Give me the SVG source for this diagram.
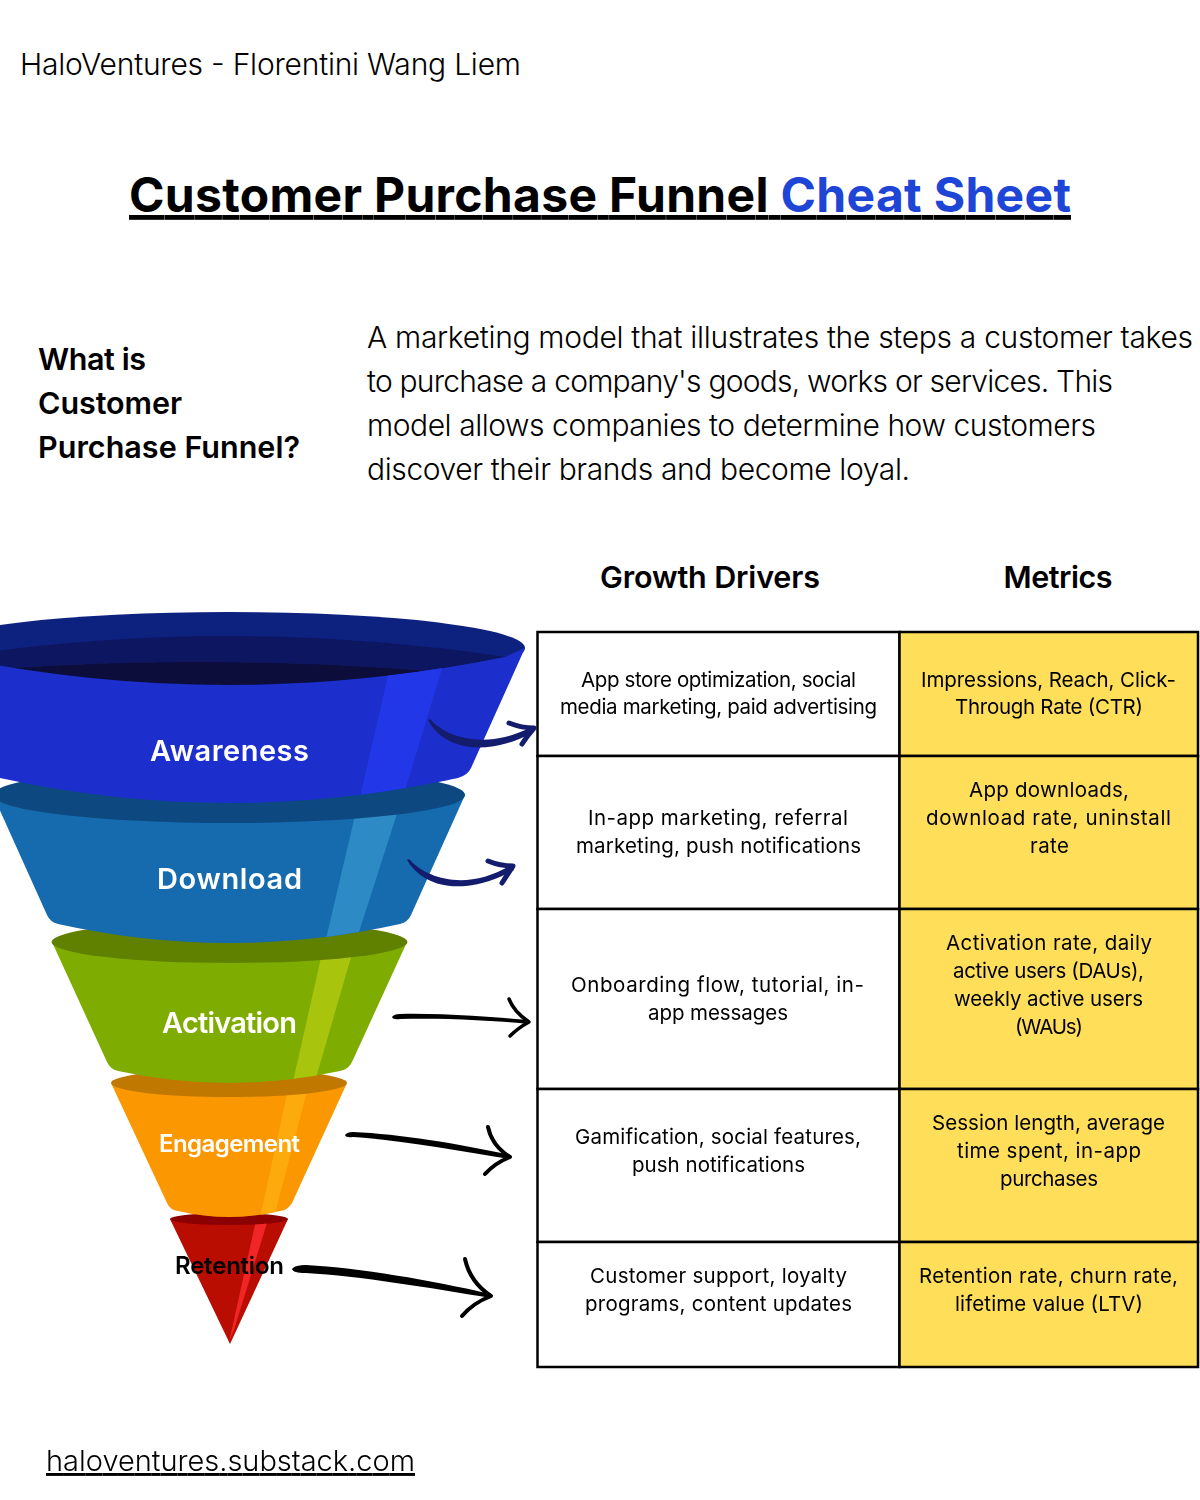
<svg xmlns="http://www.w3.org/2000/svg" width="1200" height="1500" viewBox="0 0 1200 1500">
<defs>
<filter id="soft" x="-5%" y="-5%" width="110%" height="110%"><feGaussianBlur stdDeviation="0.6"/></filter>
<clipPath id="c1"><path d="M525 648Q515 652 505 657Q229 713 -47 657L-67 648L-13 768Q-10 775 0 778Q229 828 458 778Q468 775 471 768Z"/></clipPath>
<clipPath id="c2"><path d="M-7 795L47 915Q50 922 58 924Q229 962 400 924Q408 922 411 915L465 795Z"/></clipPath>
<clipPath id="c3"><path d="M52 942L107 1062Q110 1069 118 1071Q229 1095 340 1071Q349 1069 352 1062L407 942Z"/></clipPath>
<clipPath id="c4"><path d="M111 1083L167 1203Q170 1210 178 1211Q229 1223 280 1211Q288 1210 292 1203L347 1083Z"/></clipPath>
</defs>
<style>
text{font-family:"Inter","Noto Sans",sans-serif;fill:#000}
.h{font-weight:600}
.b{font-size:20.500px;text-anchor:middle;font-weight:400}
.l{font-weight:600;text-anchor:middle;fill:#fff}
.p{font-size:30px;font-weight:300}
.n{fill:none;stroke:#141c6e;stroke-width:5;stroke-linecap:round;stroke-linejoin:round}
.k{fill:none;stroke:#000;stroke-width:4;stroke-linecap:round;stroke-linejoin:round}
.nf{fill:#141c6e}
.kf{fill:#000}
.c{fill:#fff;stroke:#000;stroke-width:2.500}
.y{fill:#ffde59;stroke:#000;stroke-width:2.500}
</style>
<rect width="1200" height="1500" fill="#fff"/>
<text x="20" y="75" font-size="30" font-weight="300" textLength="501">HaloVentures - Florentini Wang Liem</text>
<text x="600" y="212" font-size="48" font-weight="700" text-anchor="middle" text-decoration="underline" textLength="942">Customer Purchase Funnel <tspan style="fill:#1f45d6">Cheat Sheet</tspan></text>
<g id="question" class="h" font-size="30.500"><text x="38" y="370" textLength="108">What is</text><text x="38" y="414" textLength="144">Customer</text><text x="38" y="458" textLength="262">Purchase Funnel?</text></g>
<g id="definition" class="p"><text x="367" y="348" textLength="826">A marketing model that illustrates the steps a customer takes</text><text x="367" y="392" textLength="746">to purchase a company's goods, works or services. This</text><text x="367" y="436" textLength="729">model allows companies to determine how customers</text><text x="367" y="480" textLength="543">discover their brands and become loyal.</text></g>
<g id="headers" class="h" font-size="30.500" text-anchor="middle"><text x="710" y="588" textLength="220">Growth Drivers</text><text x="1058" y="588" textLength="109">Metrics</text></g>
<g filter="url(#soft)">
<g id="funnel-retention"><path d="M170 1219L230 1344L288 1219Z" fill="#b80805"/><path d="M256 1220L268 1220L234 1330L229 1342Z" fill="#f02525"/><ellipse cx="229" cy="1219" rx="59" ry="6" fill="#8b0000"/></g>
<g id="funnel-engagement"><path d="M111 1083L167 1203Q170 1210 178 1211Q229 1223 280 1211Q288 1210 292 1203L347 1083Z" fill="#fb9700"/><path d="M290 1080L310 1080L272 1225L258.500 1225Z" fill="#fdaa10" clip-path="url(#c4)"/><ellipse cx="229" cy="1083" rx="118" ry="14" fill="#c07800"/></g>
<g id="funnel-activation"><path d="M52 942L107 1062Q110 1069 118 1071Q229 1095 340 1071Q349 1069 352 1062L407 942Z" fill="#7fac00"/><path d="M325 940L356 940L311 1095L290 1095Z" fill="#a9c410" clip-path="url(#c3)"/><ellipse cx="229.500" cy="942" rx="178" ry="21" fill="#608000"/></g>
<g id="funnel-download"><path d="M-7 795L47 915Q50 922 58 924Q229 962 400 924Q408 922 411 915L465 795Z" fill="#156aae"/><path d="M361 790L404.600 790L350 960L321 960Z" fill="#2e8ac5" clip-path="url(#c2)"/><ellipse cx="229" cy="795" rx="236" ry="28" fill="#0a4a80"/></g>
<g id="funnel-awareness"><ellipse cx="229" cy="648" rx="296" ry="36" fill="#10207f"/><path d="M-47 657Q229 615 505 657Q229 713 -47 657Z" fill="#0d1760"/><path d="M14 668Q229 654 440 672L440 690L14 690Z" fill="#080e3a"/><path d="M525 648Q515 652 505 657Q229 713 -47 657L-67 648L-13 768Q-10 775 0 778Q229 828 458 778Q468 775 471 768Z" fill="#1a2fcb"/><path d="M394 650L447.600 650L399 810L357 810Z" fill="#2339e8" clip-path="url(#c1)"/></g>
</g>
<g id="funnel-labels" font-size="29"><text x="229.500" y="761" class="l" textLength="159">Awareness</text><text x="229.500" y="889" class="l" textLength="145">Download</text><text x="229.500" y="1033" class="l" textLength="135">Activation</text><text x="229.500" y="1152" class="l" style="font-size:24px" textLength="141">Engagement</text><text x="229.500" y="1274" font-size="24" class="h" text-anchor="middle" textLength="109">Retention</text></g>
<g id="connectors">
<path class="nf" d="M428 720Q430 718 432 721C448 738 488 750 531 727L534 732C490 756 445 752 428 720Z"/>
<path class="n" d="M509 723Q522 728 534 728Q527 736 522 744"/>
<path class="nf" d="M407 860Q409 858 411 861C427 878 467 892 511 865L514 870C470 895 425 891 407 860Z"/>
<path class="n" d="M488 861Q500 866 513 866Q507 875 502 883"/>
<path class="kf" d="M392 1017Q394 1014 400 1014C440 1013 490 1017 529 1020L529 1024C490 1020 440 1018 400 1019Q393 1020 392 1017Z"/>
<path class="k" style="stroke-width:3.500" d="M509 999Q514 1012 529 1022Q518 1028 510 1036"/>
<path class="kf" d="M345 1135Q347 1132 353 1132C400 1134 460 1144 510 1155L510 1159C460 1151 400 1140 353 1137Q346 1138 345 1135Z"/>
<path class="k" d="M488 1127Q492 1146 510 1157Q495 1163 485 1174"/>
<path class="kf" d="M292 1269Q294 1265 306 1265C360 1268 430 1280 491 1294L491 1298C430 1288 360 1276 306 1273Q293 1273 292 1269Z"/>
<path class="k" d="M465 1259Q470 1282 491 1296Q473 1303 462 1316"/>
</g>
<g id="row-1"><rect class="c" x="537.500" y="632" width="362" height="124"/><rect class="y" x="899.500" y="632" width="298.500" height="124"/><text class="b" x="718.500" y="687" textLength="275">App store optimization, social</text><text class="b" x="718.500" y="714" textLength="317">media marketing, paid advertising</text><text class="b" x="1048.500" y="687" textLength="255">Impressions, Reach, Click-</text><text class="b" x="1049" y="714" textLength="188">Through Rate (CTR)</text></g>
<g id="row-2"><rect class="c" x="537.500" y="756" width="362" height="153"/><rect class="y" x="899.500" y="756" width="298.500" height="153"/><text class="b" x="718" y="825" textLength="260">In-app marketing, referral</text><text class="b" x="718.500" y="853" textLength="285">marketing, push notifications</text><text class="b" x="1049" y="797" textLength="160">App downloads,</text><text class="b" x="1048.500" y="825" textLength="245">download rate, uninstall</text><text class="b" x="1049.500" y="853" textLength="39">rate</text></g>
<g id="row-3"><rect class="c" x="537.500" y="909" width="362" height="180"/><rect class="y" x="899.500" y="909" width="298.500" height="180"/><text class="b" x="717.500" y="992" textLength="293">Onboarding flow, tutorial, in-</text><text class="b" x="718" y="1020" textLength="140">app messages</text><text class="b" x="1049" y="950" textLength="206">Activation rate, daily</text><text class="b" x="1048.500" y="978" textLength="191">active users (DAUs),</text><text class="b" x="1048.500" y="1006" textLength="189">weekly active users</text><text class="b" x="1049" y="1034" textLength="68">(WAUs)</text></g>
<g id="row-4"><rect class="c" x="537.500" y="1089" width="362" height="153"/><rect class="y" x="899.500" y="1089" width="298.500" height="153"/><text class="b" x="718" y="1144" textLength="286">Gamification, social features,</text><text class="b" x="718.500" y="1172" textLength="173">push notifications</text><text class="b" x="1048.500" y="1130" textLength="233">Session length, average</text><text class="b" x="1049" y="1158" textLength="184">time spent, in-app</text><text class="b" x="1049" y="1186" textLength="98">purchases</text></g>
<g id="row-5"><rect class="c" x="537.500" y="1242" width="362" height="125"/><rect class="y" x="899.500" y="1242" width="298.500" height="125"/><text class="b" x="718.500" y="1283" textLength="257">Customer support, loyalty</text><text class="b" x="718.500" y="1311" textLength="267">programs, content updates</text><text class="b" x="1048.500" y="1283" textLength="259">Retention rate, churn rate,</text><text class="b" x="1049" y="1311" textLength="188">lifetime value (LTV)</text></g>
<text x="46" y="1471" font-size="29" font-weight="300" text-decoration="underline" textLength="369">haloventures.substack.com</text>
</svg>
